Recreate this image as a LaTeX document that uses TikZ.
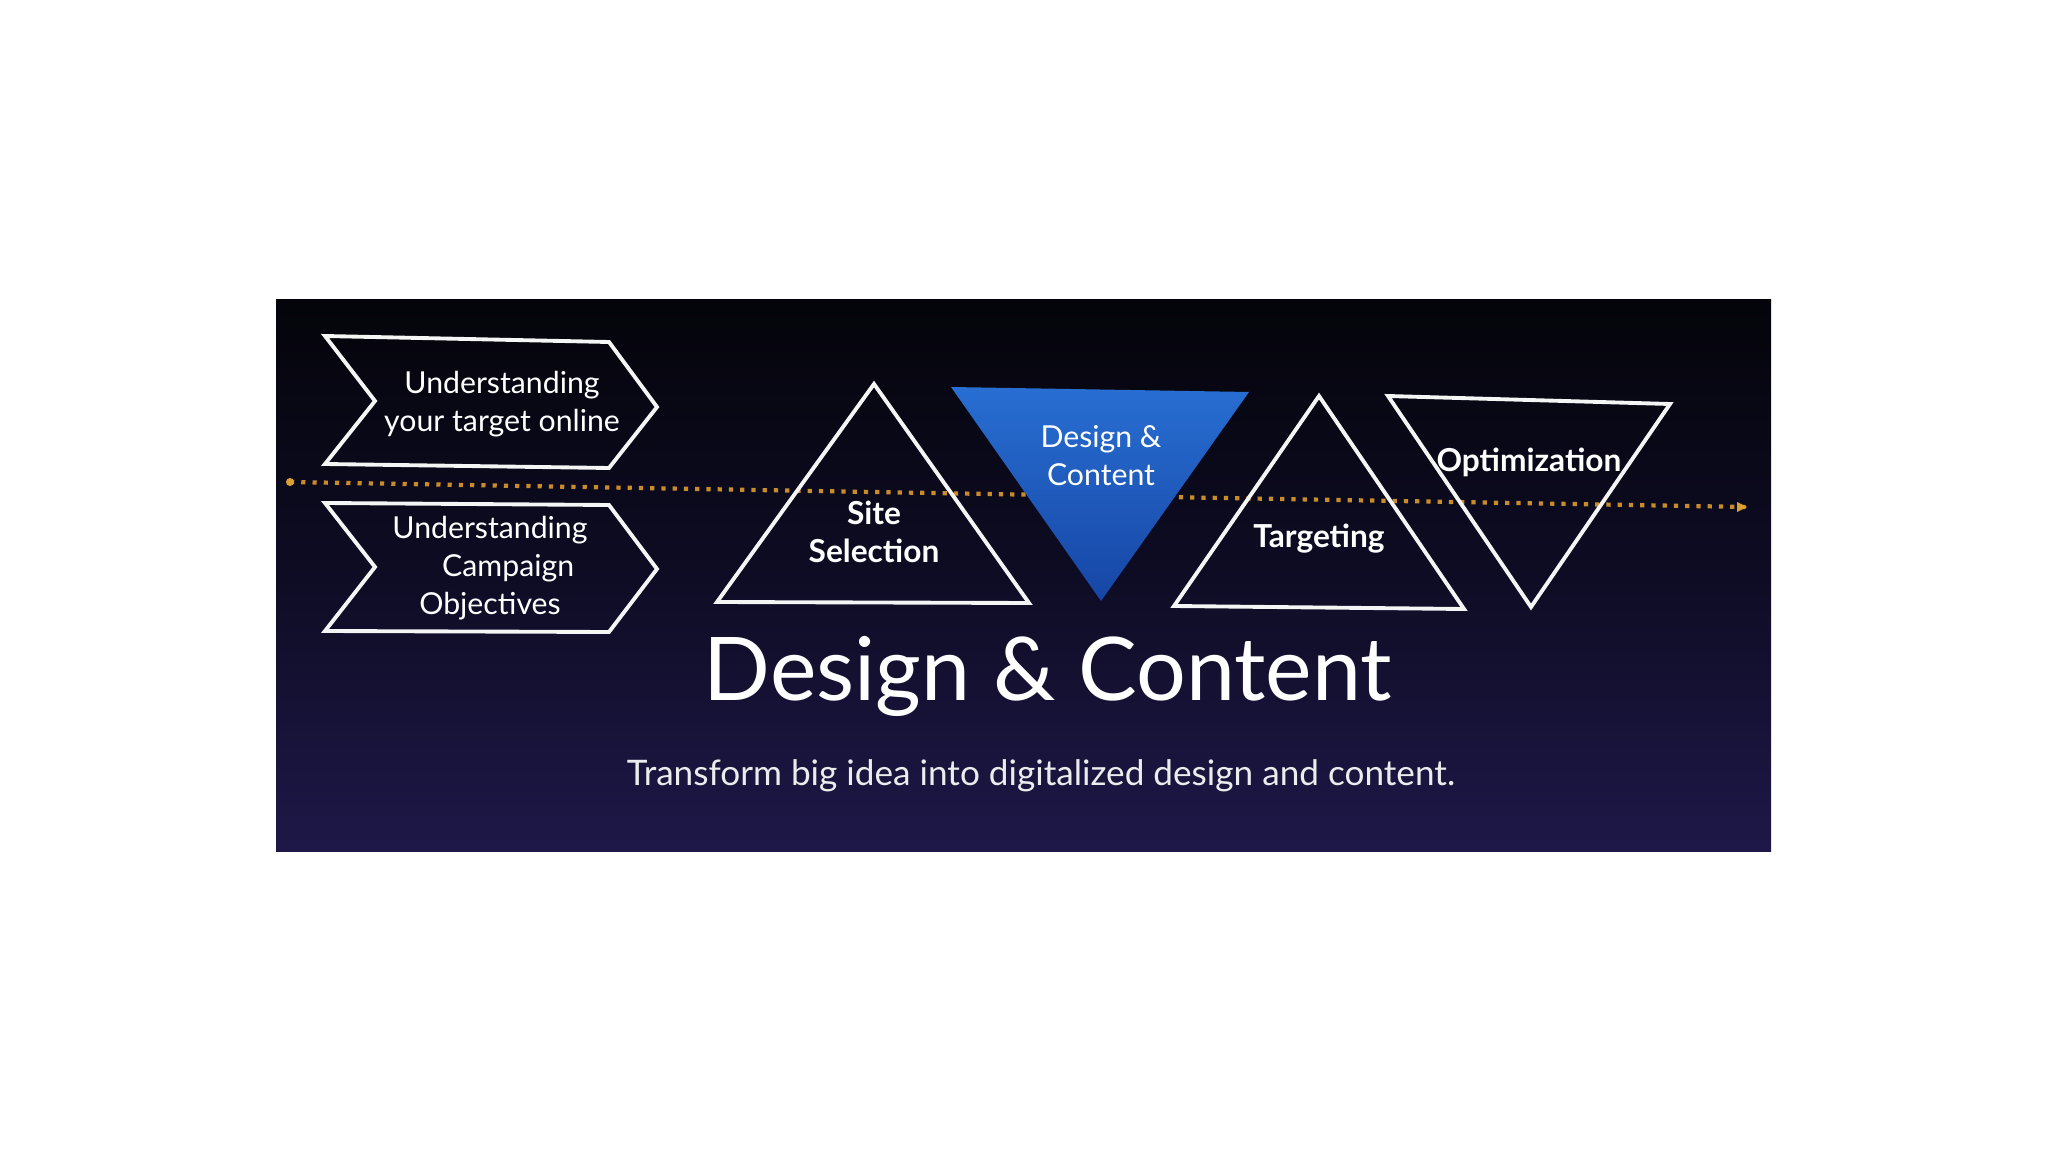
\documentclass[tikz,border=0pt]{standalone}
\usepackage{fontspec}
\setmainfont{Lato}
\definecolor{tline}{RGB}{200,140,40}
\definecolor{tdot}{RGB}{220,160,50}
\definecolor{bgbot}{RGB}{30,24,72}
\definecolor{bgmid}{RGB}{14,12,36}
\definecolor{bgtop}{RGB}{4,4,10}
\definecolor{btop}{RGB}{40,110,210}
\definecolor{bbot}{RGB}{22,70,165}
\begin{document}
\begin{tikzpicture}[x=0.01cm,y=-0.01cm,
  outl/.style={draw=white!92!gray,line width=1.1pt,line join=miter},
  lbl/.style={text=white,font=\fontsize{8.6}{10.8}\selectfont,align=center,inner sep=0},
  lblb/.style={lbl,font=\fontsize{9}{11}\selectfont\bfseries}]
\useasboundingbox (0,0) rectangle (2048,1152);
\fill[white] (0,0) rectangle (2048,1152);
\shade[top color=bgtop, bottom color=bgbot, middle color=bgmid] (276,300) rectangle (1771,851);
% timeline
\coordinate (ts) at (290,482);
\coordinate (te) at (1747,507);
\draw[tline,line width=1.2pt,dotted] (ts) -- (te);
\fill[tdot] (ts) circle (4);
\fill[tdot] (te) -- ++(-10,-5) -- ++(0,10) -- cycle;
% chevrons
\draw[outl] (325,336) -- (609,342) -- (657,407) -- (609,468) -- (325,464) -- (375,401) -- cycle;
\draw[outl] (325,503) -- (609,505) -- (657,569) -- (609,632) -- (325,631) -- (375,567) -- cycle;
\node[lbl] (c1) at (502,404) {Understanding\\your target online};
\node[lbl] (c2) at (490,568) {Understanding\\\hspace*{1.2em}Campaign\\Objectives};
% triangles
\draw[outl] (874,384) -- (1029,603) -- (717,602) -- cycle;
\node[lblb] (t1) at (874,532) {Site\\Selection};
\shade[top color=btop, bottom color=bbot] (951,387) -- (1249,392) -- (1101,601) -- cycle;
\node[lbl] (t2) at (1101,456) {Design \&\\Content};
\draw[outl] (1319,396) -- (1464,609) -- (1174,606) -- cycle;
\node[lblb] (t3) at (1319,539) {Targeting};
\draw[outl] (1388,396) -- (1670,404) -- (1531,607) -- cycle;
\node[lblb] (t4) at (1529,462) {Optimization};
% titles
\node[text=white,inner sep=0,font=\fontsize{25}{30}\selectfont] (title) at (1048,676) {Design \& Content};
\node[text=white!85!gray,inner sep=0,font=\fontsize{10}{12}\selectfont] (sub) at (1041,776) {Transform big idea into digitalized design and content.};
\end{tikzpicture}
\end{document}
